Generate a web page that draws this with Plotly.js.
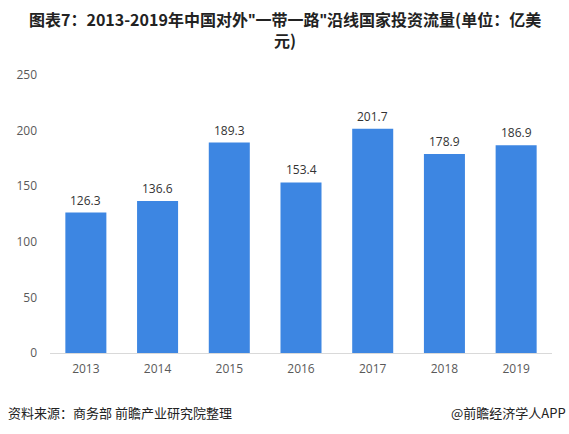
<!DOCTYPE html>
<html><head><meta charset="utf-8">
<script src="https://cdn.plot.ly/plotly-3.0.1.min.js"></script>
<style>body{margin:0;background:#fff}#c{width:569px;height:434px}</style>
</head><body><div id="c"></div>
<script>
const years = ['2013','2014','2015','2016','2017','2018','2019'];
const values = [126.3, 136.6, 189.3, 153.4, 201.7, 178.9, 186.9];
const yTicks = [0, 50, 100, 150, 200, 250];
const titleLine1 = '图表7：2013-2019年中国对外<span style="font-family:Arial">"</span>一带一路<span style="font-family:Arial">"</span>沿线国家投资流量(单位：亿美';
const titleLine2 = '元)';
const sourceText = '资料来源：商务部 前瞻产业研究院整理';
const brandText = '@前瞻经济学人APP';

const font = '"Noto Sans CJK SC", "Microsoft YaHei", sans-serif';
const L = 50, R = 552, T = 75, B = 352.7;
const W = R - L, H = B - T;
const px = x => (x - L) / W;
const py = y => (B - y) / H;

const trace = {
  type: 'bar', x: years, y: values,
  marker: {color: '#3d86e2'},
  hoverinfo: 'none'
};
const ann = years.map((y, i) => ({
  x: i, y: values[i], text: values[i].toFixed(1), showarrow: false,
  yanchor: 'bottom', yshift: 2, font: {family: 'Open Sans, Arial, sans-serif', size: 12, color: '#333'}
}));
ann.push({xref: 'paper', yref: 'paper', x: px(284.5), y: py(29.5), xanchor: 'center', yanchor: 'middle', align: 'center',
  text: '<b>' + titleLine1 + '<br>' + titleLine2 + '</b>', showarrow: false, font: {family: font, size: 16, color: '#222'}});
ann.push({xref: 'paper', yref: 'paper', x: px(6), y: py(412), xanchor: 'left', yanchor: 'middle',
  text: sourceText, showarrow: false, font: {family: font, size: 13, color: '#222'}});
ann.push({xref: 'paper', yref: 'paper', x: px(568), y: py(412), xanchor: 'right', yanchor: 'middle',
  text: brandText, showarrow: false, font: {family: font, size: 13, color: '#222'}});

const layout = {
  width: 569, height: 434,
  margin: {l: L, r: 569 - R, t: T, b: 434 - B, pad: 0},
  paper_bgcolor: '#fff', plot_bgcolor: '#fff',
  bargap: 0.428,
  showlegend: false,
  xaxis: {type: 'category', range: [-0.5, 6.5], showline: true, linecolor: '#d9d9d9', linewidth: 1, ticks: '',
    ticklabelstandoff: 5,
    tickfont: {family: 'Open Sans, Arial, sans-serif', size: 12, color: '#595959'}, showgrid: false, zeroline: false},
  yaxis: {range: [0, 250], tickvals: yTicks, showgrid: false, zeroline: false, showline: false, ticks: '',
    ticklabelstandoff: 12,
    tickfont: {family: 'Open Sans, Arial, sans-serif', size: 12, color: '#595959'}},
  annotations: ann
};
Plotly.newPlot('c', [trace], layout, {displayModeBar: false, staticPlot: true});
</script></body></html>
